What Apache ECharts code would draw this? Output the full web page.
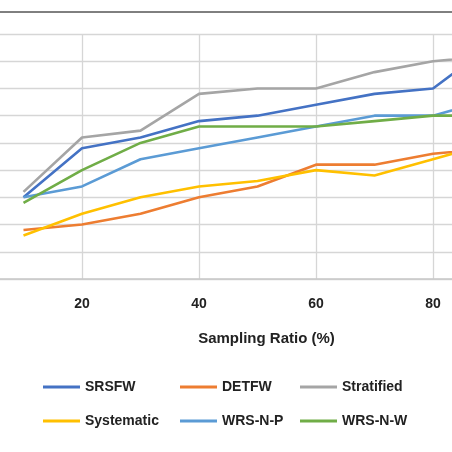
<!DOCTYPE html>
<html>
<head>
<meta charset="utf-8">
<script src="https://cdn.jsdelivr.net/npm/echarts@6/dist/echarts.min.js"></script>
<style>html,body{margin:0;padding:0;background:#fff}#chart{width:452px;height:452px}</style>
</head>
<body>
<div id="chart"></div>
<script>
// sampling ratio (%)
var ratios = [10, 20, 30, 40, 50, 60, 70, 80, 90];
var seriesNames = ['SRSFW', 'DETFW', 'Stratified', 'Systematic', 'WRS-N-P', 'WRS-N-W'];
var srsfw = [3.0, 4.8, 5.2, 5.8, 6.0, 6.4, 6.8, 7.0, 8.6];
var detfw = [1.8, 2.0, 2.4, 3.0, 3.4, 4.2, 4.2, 4.6, 4.8];
var stratified = [3.2, 5.2, 5.45, 6.8, 7.0, 7.0, 7.6, 8.0, 8.2];
var systematic = [1.6, 2.4, 3.0, 3.4, 3.6, 4.0, 3.8, 4.4, 5.0];
var wrsNP = [3.0, 3.4, 4.4, 4.8, 5.2, 5.6, 6.0, 6.0, 6.6];
var wrsNW = [2.8, 4.0, 5.0, 5.6, 5.6, 5.6, 5.8, 6.0, 6.0];
var colors = ['#4472C4', '#ED7D31', '#A5A5A5', '#FFC000', '#5B9BD5', '#70AD47'];
var allValues = [srsfw, detfw, stratified, systematic, wrsNP, wrsNW];

var chart = echarts.init(document.getElementById('chart'));

function pairs(vals) {
  return ratios.map(function (r, i) { return [r, vals[i]]; });
}

// one legend per item so they sit like the original 3x2 grid
var legendPos = [[38, 375], [175, 375], [295, 375], [38, 409], [175, 409], [295, 409]];
var legends = seriesNames.map(function (n, i) {
  return {
    data: [n],
    left: legendPos[i][0],
    top: legendPos[i][1],
    icon: 'rect',
    itemWidth: 37,
    itemHeight: 3,
    itemGap: 5,
    selectedMode: false,
    textStyle: { fontFamily: 'Liberation Sans', fontWeight: 'bold', fontSize: 14, color: '#222' }
  };
});

var option = {
  animation: false,
  color: colors,
  legend: legends,
  graphic: [{
    type: 'line',
    shape: { x1: 0, y1: 12, x2: 452, y2: 12 },
    style: { stroke: '#000', lineWidth: 1 }
  }],
  grid: { left: -35, right: -98, top: 34, bottom: 173, containLabel: false, outerBoundsMode: 'none' },
  xAxis: {
    type: 'value',
    min: 0,
    max: 100,
    interval: 20,
    name: 'Sampling Ratio (%)',
    nameLocation: 'middle',
    nameGap: 52,
    nameTextStyle: { fontFamily: 'Liberation Sans', fontWeight: 'bold', fontSize: 15, color: '#222', padding: [0, 0, 0, 18] },
    axisLine: { lineStyle: { color: '#c8c8c8', width: 1.5 } },
    axisTick: { show: false },
    axisLabel: { fontFamily: 'Liberation Sans', fontWeight: 'bold', fontSize: 14, color: '#222', margin: 18 },
    splitLine: { show: true, lineStyle: { color: '#d6d6d6', width: 1.3 } }
  },
  yAxis: {
    type: 'value',
    min: 0,
    max: 9,
    interval: 1,
    axisLine: { show: false },
    axisTick: { show: false },
    axisLabel: { show: false },
    splitLine: { lineStyle: { color: '#d6d6d6', width: 1.3 } }
  },
  series: seriesNames.map(function (n, i) {
    return {
      name: n,
      type: 'line',
      data: pairs(allValues[i]),
      showSymbol: false,
      lineStyle: { width: 2.6 }
    };
  })
};
chart.setOption(option);
</script>
</body>
</html>
